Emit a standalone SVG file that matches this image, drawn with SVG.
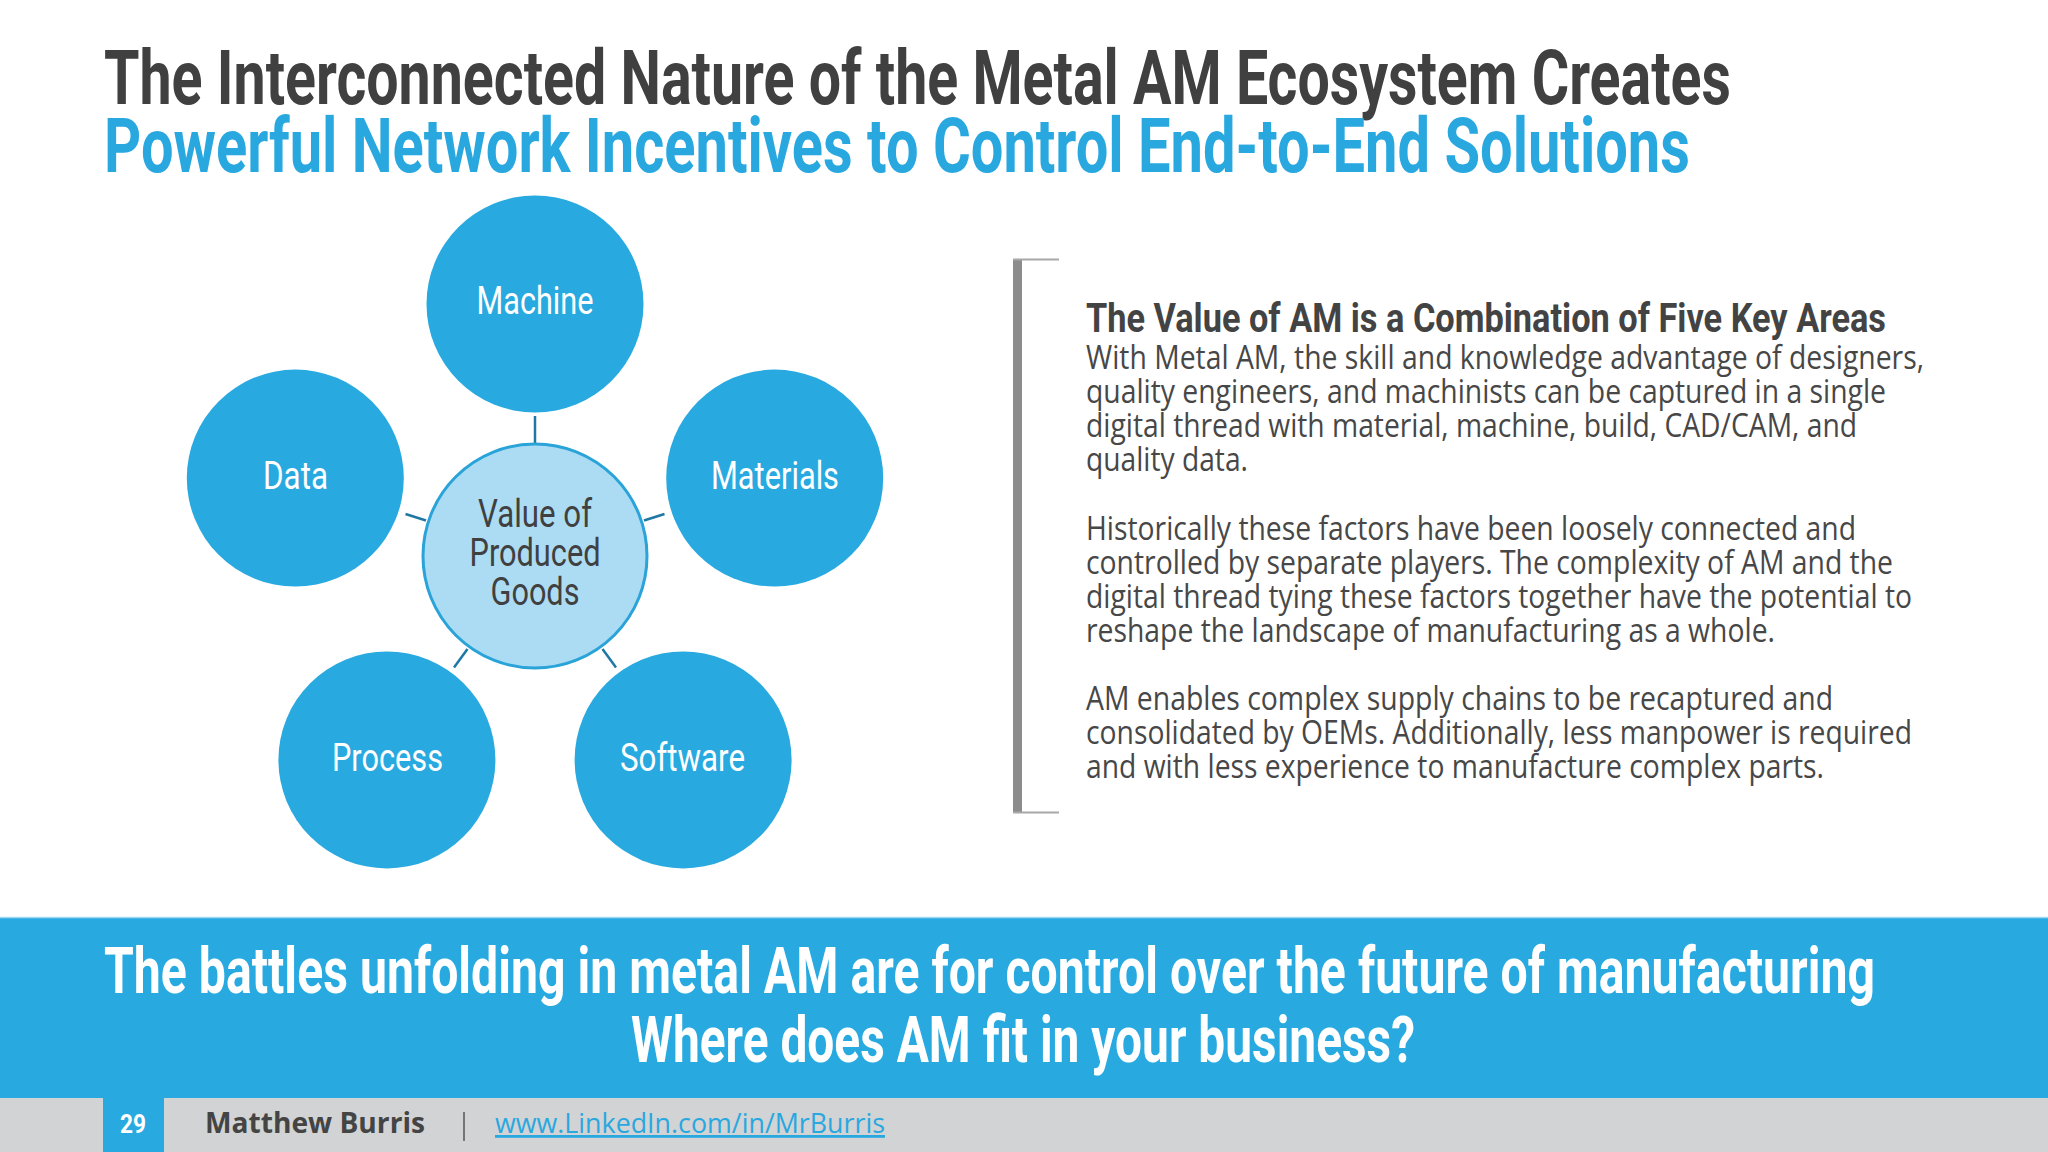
<svg xmlns="http://www.w3.org/2000/svg" width="2048" height="1152" viewBox="0 0 2048 1152">
<style>
.title{font-family:Roboto,"Liberation Sans",sans-serif;font-weight:700;font-size:76px}
.lbl{font-family:Roboto,"Liberation Sans",sans-serif;font-size:39px;fill:#ffffff;text-anchor:middle}
.clbl{font-family:Roboto,"Liberation Sans",sans-serif;font-size:39px;fill:#404040;text-anchor:middle}
.node{fill:#28a9e0}
.hub{fill:#acdcf3;stroke:#2aa3d9;stroke-width:3}
.conn line{stroke:#1f78a3;stroke-width:2.5}
.head{font-family:Roboto,"Liberation Sans",sans-serif;font-weight:700;font-size:40px;fill:#434343}
.body{font-family:"Open Sans","Liberation Sans",sans-serif;font-size:33px;fill:#474747}
.band{font-family:Roboto,"Liberation Sans",sans-serif;font-weight:700;font-size:65px;fill:#ffffff}
</style>
<rect width="2048" height="1152" fill="#ffffff"/>
<g id="title">
<text class="title" x="104" y="104" fill="#404040" textLength="1627" lengthAdjust="spacingAndGlyphs">The Interconnected Nature of the Metal AM Ecosystem Creates</text>
<text class="title" x="104" y="172" fill="#29a8e0" textLength="1586" lengthAdjust="spacingAndGlyphs">Powerful Network Incentives to Control End-to-End Solutions</text>
</g>
<g id="connectors" class="conn">
<line x1="535" y1="443" x2="535" y2="416"/>
<line x1="426" y1="520.5" x2="405.5" y2="514"/>
<line x1="644" y1="520.5" x2="664.5" y2="514"/>
<line x1="467.5" y1="649" x2="454" y2="667.5"/>
<line x1="602.5" y1="649" x2="616" y2="667.5"/>
</g>
<g id="node-machine"><circle class="node" cx="535" cy="304" r="108.5"/><text class="lbl" x="535" y="314" textLength="117" lengthAdjust="spacingAndGlyphs">Machine</text></g>
<g id="node-data"><circle class="node" cx="295.3" cy="478.1" r="108.5"/><text class="lbl" x="295.5" y="489" textLength="65" lengthAdjust="spacingAndGlyphs">Data</text></g>
<g id="node-materials"><circle class="node" cx="774.7" cy="478.1" r="108.5"/><text class="lbl" x="775" y="489" textLength="128" lengthAdjust="spacingAndGlyphs">Materials</text></g>
<g id="node-process"><circle class="node" cx="386.9" cy="759.9" r="108.5"/><text class="lbl" x="387.5" y="771" textLength="111" lengthAdjust="spacingAndGlyphs">Process</text></g>
<g id="node-software"><circle class="node" cx="683.1" cy="759.9" r="108.5"/><text class="lbl" x="682.5" y="771" textLength="125" lengthAdjust="spacingAndGlyphs">Software</text></g>
<g id="node-center"><circle class="hub" cx="535" cy="556" r="112"/>
<text class="clbl" x="535" y="527" textLength="114" lengthAdjust="spacingAndGlyphs">Value of</text>
<text class="clbl" x="535" y="566" textLength="131" lengthAdjust="spacingAndGlyphs">Produced</text>
<text class="clbl" x="535" y="604.5" textLength="89" lengthAdjust="spacingAndGlyphs">Goods</text>
</g>
<g id="textpanel">
<rect x="1013" y="259" width="9" height="554" fill="#8c8c8c"/>
<line x1="1013" y1="259.5" x2="1059" y2="259.5" stroke="#a8a8a8" stroke-width="2"/>
<line x1="1013" y1="812.5" x2="1059" y2="812.5" stroke="#a8a8a8" stroke-width="2"/>
<text class="head" x="1086" y="332" textLength="800" lengthAdjust="spacingAndGlyphs">The Value of AM is a Combination of Five Key Areas</text>
<text class="body" x="1086" y="369" textLength="838" lengthAdjust="spacingAndGlyphs">With Metal AM, the skill and knowledge advantage of designers,</text>
<text class="body" x="1086" y="403" textLength="800" lengthAdjust="spacingAndGlyphs">quality engineers, and machinists can be captured in a single</text>
<text class="body" x="1086" y="437" textLength="771" lengthAdjust="spacingAndGlyphs">digital thread with material, machine, build, CAD/CAM, and</text>
<text class="body" x="1086" y="471" textLength="162" lengthAdjust="spacingAndGlyphs">quality data.</text>
<text class="body" x="1086" y="539.5" textLength="770" lengthAdjust="spacingAndGlyphs">Historically these factors have been loosely connected and</text>
<text class="body" x="1086" y="573.5" textLength="807" lengthAdjust="spacingAndGlyphs">controlled by separate players. The complexity of AM and the</text>
<text class="body" x="1086" y="607.5" textLength="826" lengthAdjust="spacingAndGlyphs">digital thread tying these factors together have the potential to</text>
<text class="body" x="1086" y="642" textLength="689" lengthAdjust="spacingAndGlyphs">reshape the landscape of manufacturing as a whole.</text>
<text class="body" x="1086" y="710" textLength="747" lengthAdjust="spacingAndGlyphs">AM enables complex supply chains to be recaptured and</text>
<text class="body" x="1086" y="744" textLength="826" lengthAdjust="spacingAndGlyphs">consolidated by OEMs. Additionally, less manpower is required</text>
<text class="body" x="1086" y="778" textLength="738" lengthAdjust="spacingAndGlyphs">and with less experience to manufacture complex parts.</text>
</g>
<g id="banner">
<rect x="0" y="917" width="2048" height="181" fill="#28aae1"/>
<line x1="0" y1="917.5" x2="2048" y2="917.5" stroke="#9fd8f2" stroke-width="1.5"/>
<text class="band" x="104" y="993" textLength="1771" lengthAdjust="spacingAndGlyphs">The battles unfolding in metal AM are for control over the future of manufacturing</text>
<text class="band" x="631" y="1062" textLength="784" lengthAdjust="spacingAndGlyphs">Where does AM fit in your business?</text>
</g>
<g id="footer">
<rect x="0" y="1098" width="2048" height="54" fill="#d1d3d4"/>
<rect x="103" y="1098" width="61" height="54" fill="#28aae1"/>
<text x="133" y="1133" font-family="Roboto,'Liberation Sans',sans-serif" font-weight="700" font-size="25" fill="#ffffff" text-anchor="middle" textLength="26" lengthAdjust="spacingAndGlyphs">29</text>
<text x="205" y="1133" font-family="'Open Sans','Liberation Sans',sans-serif" font-weight="700" font-size="28" fill="#444444" textLength="220" lengthAdjust="spacingAndGlyphs">Matthew Burris</text>
<line x1="464" y1="1112" x2="464" y2="1141" stroke="#555555" stroke-width="1.5"/>
<text x="495" y="1133" font-family="'Open Sans','Liberation Sans',sans-serif" font-size="28" fill="#29a8e0" text-decoration="underline" textLength="390" lengthAdjust="spacingAndGlyphs">www.LinkedIn.com/in/MrBurris</text>
</g>
</svg>
